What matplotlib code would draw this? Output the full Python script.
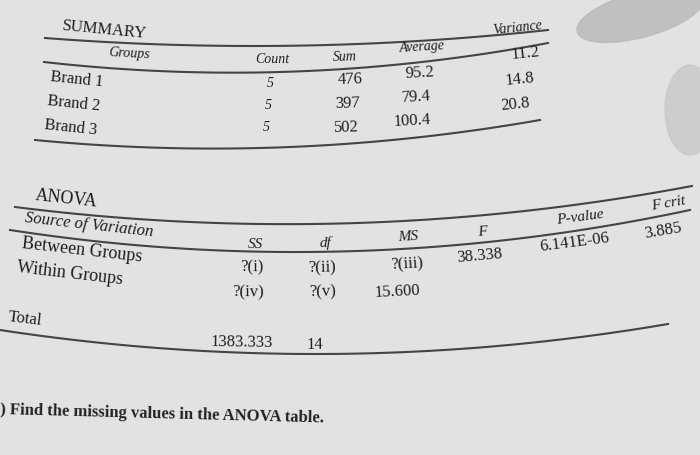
import matplotlib
matplotlib.use("Agg")
import matplotlib.pyplot as plt
import numpy as np
from matplotlib.patches import Ellipse

groups = ["Brand 1", "Brand 2", "Brand 3"]
counts = ["5", "5", "5"]
sums = ["476", "397", "502"]
averages = ["95.2", "79.4", "100.4"]
variances = ["11.2", "14.8", "20.8"]

anova_sources = ["Between Groups", "Within Groups"]
ss_vals = ["?(i)", "?(iv)"]
df_vals = ["?(ii)", "?(v)"]
ms_vals = ["?(iii)", "15.600"]
f_val = "38.338"
p_val = "6.141E-06"
fcrit_val = "3.885"
total_ss = "1383.333"
total_df = "14"

fig = plt.figure(figsize=(7, 4.55), dpi=100)
fig.patch.set_facecolor("#e2e2e0")
ax = fig.add_axes([0, 0, 1, 1])
ax.set_xlim(0, 700); ax.set_ylim(455, 0); ax.axis("off")

ax.add_patch(Ellipse((640, 15), 130, 45, angle=-15, color="#b8b8b6", alpha=0.8))
ax.add_patch(Ellipse((690, 110), 50, 90, color="#c8c8c6", alpha=0.8))

c = "#1e1e1e"

def rot(x):
    return -7 + 15 * (x / 600)

def t(x, y, s, size=12, ha="left", style="normal", weight="normal"):
    r = rot(x)
    ax.text(x, y, s, fontsize=size, ha=ha, style=style, weight=weight, color=c,
            family="Liberation Serif", rotation=r, va="center",
            rotation_mode="anchor")

def curve(p0, p1, p2, lw=1.5):
    xs = [p0[0], p1[0], p2[0]]; ys = [p0[1], p1[1], p2[1]]
    co = np.polyfit(xs, ys, 2)
    xx = np.linspace(p0[0], p2[0], 100)
    ax.plot(xx, np.polyval(co, xx), color="#444", lw=lw)

t(62, 26, "SUMMARY", 12)
curve((45, 38), (250, 46), (548, 30))
t(150, 55, "Groups", 10, ha="right", style="italic")
curve((44, 62), (280, 72), (548, 43))
t(272, 60, "Count", 10, ha="center", style="italic")
t(345, 57, "Sum", 10, ha="center", style="italic")
t(422, 47, "Average", 10, ha="center", style="italic")
t(518, 28, "Variance", 10, ha="center", style="italic")
ys = [77, 101, 125]
for i, g in enumerate(groups):
    y = ys[i]
    t(50 - 3 * i, y, g, 12)
    t(270 - 2 * i, y + 7 - 2 * i, counts[i], 10, ha="center", style="italic")
    t(350 - 2 * i, y + 3, sums[i], 12, ha="center")
    t(420 - 4 * i, y - 4, averages[i], 12, ha="center")
    t(525 - 5 * i, y - 24 + 2 * i, variances[i], 12, ha="center")
curve((35, 140), (290, 147), (540, 120))

t(35, 196, "ANOVA", 13)
curve((15, 207), (312, 224), (692, 186))
t(25, 218, "Source of Variation", 12, style="italic")
curve((10, 230), (357, 251), (690, 210))
for i, s in enumerate(anova_sources):
    t(22 - 5 * i, 244 + 24 * i, s, 13)
t(255, 245, "SS", 11, ha="center", style="italic")
t(325, 243, "df", 11, ha="center", style="italic")
t(408, 237, "MS", 11, ha="center", style="italic")
t(482, 232, "F", 11, ha="center", style="italic")
t(580, 217, "P-value", 11, ha="center", style="italic")
t(668, 204, "F crit", 11, ha="center", style="italic")
t(252, 268, ss_vals[0], 12, ha="center")
t(248, 293, ss_vals[1], 12, ha="center")
t(322, 268, df_vals[0], 12, ha="center")
t(322, 292, df_vals[1], 12, ha="center")
t(407, 265, ms_vals[0], 12, ha="center")
t(397, 292, ms_vals[1], 12, ha="center")
t(480, 256, f_val, 12, ha="center")
t(575, 243, p_val, 12, ha="center")
t(663, 231, fcrit_val, 12, ha="center")
t(8, 317, "Total", 12)
curve((0, 330), (312, 354), (668, 324))
t(242, 343, total_ss, 12, ha="center")
t(315, 345, total_df, 12, ha="center")

ax.text(0, 410, ") Find the missing values in the ANOVA table.", fontsize=12,
        color="#222", family="Liberation Serif", weight="bold", rotation=-1.5,
        va="center", rotation_mode="anchor")

fig.savefig("out.png", dpi=100, facecolor=fig.get_facecolor())
